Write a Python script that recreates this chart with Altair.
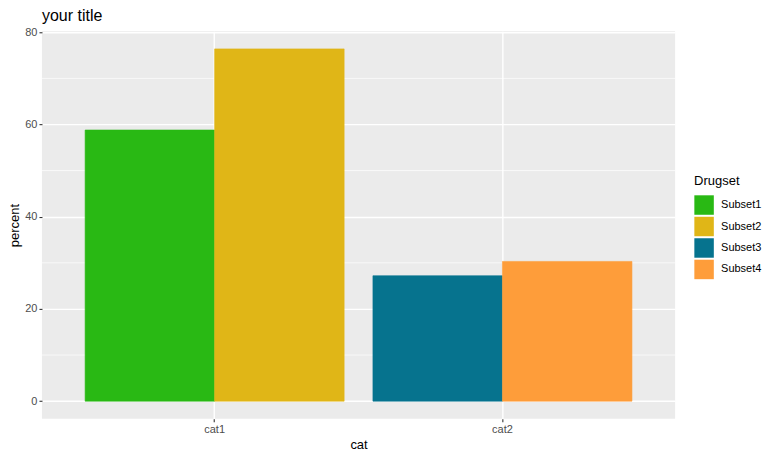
import altair as alt
import pandas as pd

cats = ["cat1", "cat1", "cat2", "cat2"]
subsets = ["Subset1", "Subset2", "Subset3", "Subset4"]
percents = [58.8, 76.4, 27.2, 30.3]
colors = ["#29B914", "#E0B617", "#06738E", "#FE9D3A"]
major_breaks = [0, 20, 40, 60, 80]
minor_breaks = [10, 30, 50, 70]

df = pd.DataFrame({"cat": cats, "Drugset": subsets, "percent": percents})
minor_df = pd.DataFrame({"v": minor_breaks})

FONT = "Liberation Sans"
ydom = [-3.82, 80.22]

yscale = alt.Scale(domain=ydom, nice=False, zero=False)
yaxis = alt.Axis(
    values=major_breaks, grid=True, gridColor="white", gridWidth=1.4,
    domain=False, tickColor="#333333", tickSize=3, tickWidth=1.1,
    labelColor="#4D4D4D", labelFontSize=11, labelFont=FONT, labelPadding=2,
    titleFont=FONT, titleFontSize=13, titleFontWeight="normal", titleColor="black",
    titlePadding=3,
)

minor = alt.Chart(minor_df).mark_rule(color="white", strokeWidth=0.7).encode(
    y=alt.Y("v:Q", scale=yscale, axis=yaxis, title="percent")
)

bars = alt.Chart(df).transform_window(
    slot="rank()", groupby=["cat"]
).mark_bar(strokeWidth=0.6).encode(
    x=alt.X(
        "cat:N",
        title="cat",
        scale=alt.Scale(paddingInner=0.1, paddingOuter=0.15),
        axis=alt.Axis(
            labelAngle=0, bandPosition=0.5, grid=True, gridColor="white", gridWidth=1.4,
            domain=False, tickColor="#333333", tickSize=3, tickWidth=1.1,
            labelColor="#4D4D4D", labelFontSize=11, labelFont=FONT, labelPadding=2,
            titleFont=FONT, titleFontSize=13, titleFontWeight="normal", titleColor="black",
            titlePadding=4,
        ),
    ),
    xOffset=alt.XOffset("slot:O", scale=alt.Scale(paddingInner=0, paddingOuter=0)),
    y=alt.Y("percent:Q", title="percent", scale=yscale, axis=yaxis),
    color=alt.Color(
        "Drugset:N",
        scale=alt.Scale(domain=subsets, range=colors),
        legend=alt.Legend(
            title="Drugset", orient="none", legendX=653, legendY=144,
            symbolType="square", symbolSize=380, symbolStrokeWidth=0, symbolOpacity=1,
            titleFont=FONT, titleFontSize=13, titleFontWeight="normal", titleColor="black",
            labelFont=FONT, labelFontSize=11, labelColor="black", rowPadding=1.5,
            titlePadding=7, labelOffset=7,
        ),
    ),
    stroke=alt.Stroke("Drugset:N", scale=alt.Scale(domain=subsets, range=colors), legend=None),
)

chart = alt.layer(minor, bars).properties(
    width=634,
    height=388,
    background="white",
    padding={"left": 0, "top": 0, "right": 5, "bottom": 5},
    title=alt.TitleParams(
        "your title", anchor="start", frame="group", font=FONT, fontSize=16,
        fontWeight="normal", color="black", offset=2,
    ),
).configure_view(fill="#EBEBEB", stroke=None)

chart.save("out.html", embed_options={"renderer": "svg", "actions": False})
